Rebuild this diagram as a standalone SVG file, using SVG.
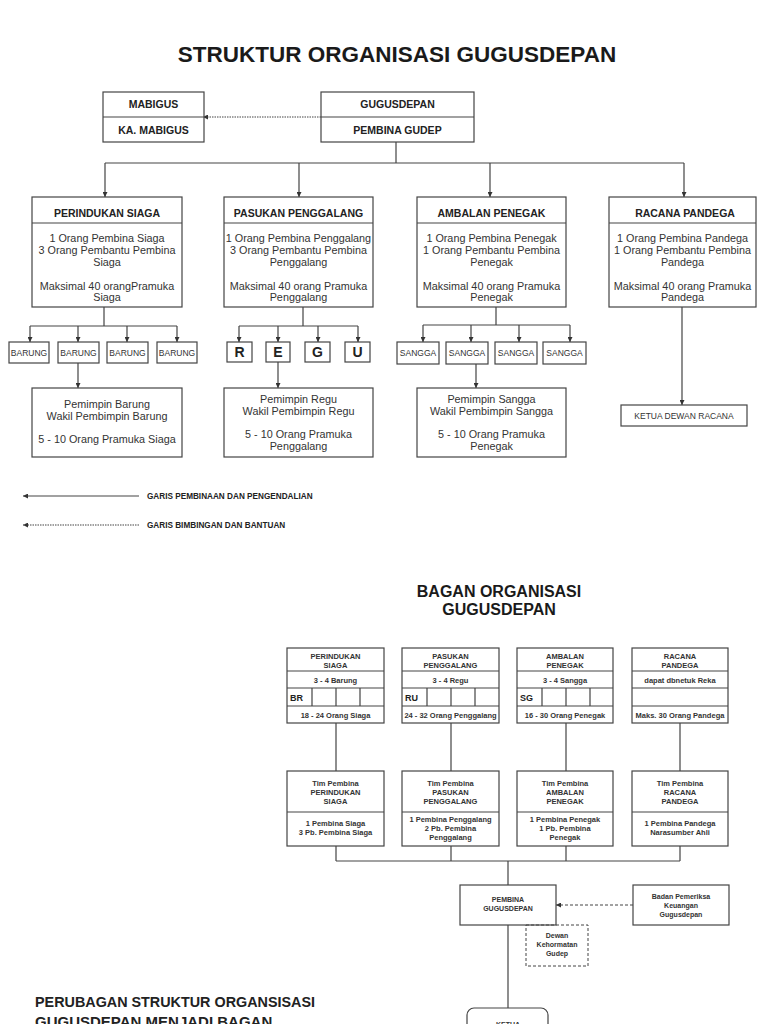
<svg xmlns="http://www.w3.org/2000/svg" width="768" height="1024" viewBox="0 0 768 1024">
<defs>
<style>
text{font-family:"Liberation Sans",Arial,sans-serif;fill:#222;}
.t{font-weight:bold;fill:#1a1a1a;text-anchor:middle;}
.hb{font-weight:bold;font-size:10.5px;text-anchor:middle;}
.b{font-size:10.8px;text-anchor:middle;fill:#333;}
.s{font-size:8.5px;text-anchor:middle;fill:#333;}
.L{font-weight:bold;font-size:14px;text-anchor:middle;}
.lg{font-weight:bold;font-size:8.2px;}
.sm{font-weight:bold;font-size:7.5px;text-anchor:middle;fill:#333;}
.xs{font-weight:bold;font-size:7px;text-anchor:middle;fill:#333;}
.box{fill:#fff;stroke:#444;stroke-width:1.2;}
.ln{fill:none;stroke:#444;stroke-width:1.2;}
.dot{fill:none;stroke:#444;stroke-width:1.1;stroke-dasharray:1.5 1;}
.dash{fill:none;stroke:#444;stroke-width:1;stroke-dasharray:3 2;}
</style>
<marker id="ah" viewBox="0 0 10 10" refX="10" refY="5" markerWidth="5" markerHeight="5" orient="auto-start-reverse" markerUnits="userSpaceOnUse">
<path d="M0,0 L10,5 L0,10 z" fill="#333"/>
</marker>
</defs>
<rect width="768" height="1024" fill="#fff"/>

<text class="t" x="397" y="62" font-size="22.5">STRUKTUR ORGANISASI GUGUSDEPAN</text>

<g id="connectors">
<path class="dot" d="M321,117 H203" marker-end="url(#ah)"/>
<path class="ln" d="M396,142 V163 M105,163 H684"/>
<path class="ln" d="M105,163 V197" marker-end="url(#ah)"/>
<path class="ln" d="M299,163 V197" marker-end="url(#ah)"/>
<path class="ln" d="M490,163 V197" marker-end="url(#ah)"/>
<path class="ln" d="M684,163 V197" marker-end="url(#ah)"/>
<!-- siaga -->
<path class="ln" d="M104,307 V326 M30,326 H177"/>
<path class="ln" d="M30,326 V342" marker-end="url(#ah)"/>
<path class="ln" d="M78,326 V342" marker-end="url(#ah)"/>
<path class="ln" d="M127,326 V342" marker-end="url(#ah)"/>
<path class="ln" d="M177,326 V342" marker-end="url(#ah)"/>
<path class="ln" d="M78,363 V388" marker-end="url(#ah)"/>
<!-- penggalang -->
<path class="ln" d="M303,307 V326 M239,326 H358"/>
<path class="ln" d="M239,326 V342" marker-end="url(#ah)"/>
<path class="ln" d="M278,326 V342" marker-end="url(#ah)"/>
<path class="ln" d="M318,326 V342" marker-end="url(#ah)"/>
<path class="ln" d="M358,326 V342" marker-end="url(#ah)"/>
<path class="ln" d="M278,362 V388" marker-end="url(#ah)"/>
<!-- penegak -->
<path class="ln" d="M496,307 V325 M423,325 H570"/>
<path class="ln" d="M423,325 V342" marker-end="url(#ah)"/>
<path class="ln" d="M471,325 V342" marker-end="url(#ah)"/>
<path class="ln" d="M519,325 V342" marker-end="url(#ah)"/>
<path class="ln" d="M570,325 V342" marker-end="url(#ah)"/>
<path class="ln" d="M476,364 V388" marker-end="url(#ah)"/>
<!-- pandega -->
<path class="ln" d="M682,307 V405" marker-end="url(#ah)"/>
<!-- legend -->
<path class="ln" d="M139,496 H23" marker-end="url(#ah)"/>
<path class="dot" d="M139,525 H23" marker-end="url(#ah)"/>
<!-- bottom chart -->
<path class="ln" d="M336,723 V771 M451,723 V771 M566,723 V771 M680,723 V771"/>
<path class="ln" d="M336,846 V861 M451,846 V861 M566,846 V861 M680,846 V861 M336,861 H680 M508,861 V885"/>
<path class="ln" d="M508,925 V1008"/>
<path class="dash" d="M633,905 H556" marker-end="url(#ah)"/>
</g>

<g id="mabigus">
<rect class="box" x="103" y="92" width="101" height="50"/>
<line class="ln" x1="103" y1="117" x2="204" y2="117"/>
<text class="hb" x="153.5" y="108" font-size="11">MABIGUS</text>
<text class="hb" x="153.5" y="134" font-size="11">KA. MABIGUS</text>
</g>
<g id="gugusdepan">
<rect class="box" x="321" y="92" width="153" height="50"/>
<line class="ln" x1="321" y1="117" x2="474" y2="117"/>
<text class="hb" x="397.5" y="108" font-size="11">GUGUSDEPAN</text>
<text class="hb" x="397.5" y="134" font-size="11">PEMBINA GUDEP</text>
</g>

<g id="perindukan">
<rect class="box" x="32" y="197" width="150" height="110"/>
<line class="ln" x1="32" y1="223" x2="182" y2="223"/>
<text class="hb" x="107" y="217">PERINDUKAN SIAGA</text>
<text class="b" x="107" y="242">1 Orang Pembina Siaga</text>
<text class="b" x="107" y="254">3 Orang Pembantu Pembina</text>
<text class="b" x="107" y="266">Siaga</text>
<text class="b" x="107" y="290">Maksimal 40 orangPramuka</text>
<text class="b" x="107" y="301">Siaga</text>
</g>
<g id="pasukan">
<rect class="box" x="224" y="197" width="149" height="110"/>
<line class="ln" x1="224" y1="223" x2="373" y2="223"/>
<text class="hb" x="298.5" y="217">PASUKAN PENGGALANG</text>
<text class="b" x="298.5" y="242">1 Orang Pembina Penggalang</text>
<text class="b" x="298.5" y="254">3 Orang Pembantu Pembina</text>
<text class="b" x="298.5" y="266">Penggalang</text>
<text class="b" x="298.5" y="290">Maksimal 40 orang Pramuka</text>
<text class="b" x="298.5" y="301">Penggalang</text>
</g>
<g id="ambalan">
<rect class="box" x="417" y="197" width="149" height="110"/>
<line class="ln" x1="417" y1="223" x2="566" y2="223"/>
<text class="hb" x="491.5" y="217">AMBALAN PENEGAK</text>
<text class="b" x="491.5" y="242">1 Orang Pembina Penegak</text>
<text class="b" x="491.5" y="254">1 Orang Pembantu Pembina</text>
<text class="b" x="491.5" y="266">Penegak</text>
<text class="b" x="491.5" y="290">Maksimal 40 orang Pramuka</text>
<text class="b" x="491.5" y="301">Penegak</text>
</g>
<g id="racana">
<rect class="box" x="609" y="197" width="147" height="110"/>
<line class="ln" x1="609" y1="223" x2="756" y2="223"/>
<text class="hb" x="685" y="217">RACANA PANDEGA</text>
<text class="b" x="682.5" y="242">1 Orang Pembina Pandega</text>
<text class="b" x="682.5" y="254">1 Orang Pembantu Pembina</text>
<text class="b" x="682.5" y="266">Pandega</text>
<text class="b" x="682.5" y="290">Maksimal 40 orang Pramuka</text>
<text class="b" x="682.5" y="301">Pandega</text>
</g>

<g id="barung1"><rect class="box" x="9" y="342" width="40" height="21"/><text class="s" x="29" y="355.5">BARUNG</text></g>
<g id="barung2"><rect class="box" x="58" y="342" width="41" height="21"/><text class="s" x="78.5" y="355.5">BARUNG</text></g>
<g id="barung3"><rect class="box" x="107" y="342" width="41" height="21"/><text class="s" x="127.5" y="355.5">BARUNG</text></g>
<g id="barung4"><rect class="box" x="157" y="342" width="40" height="21"/><text class="s" x="177" y="355.5">BARUNG</text></g>

<g id="regu-r"><rect class="box" x="227" y="342" width="25" height="20"/><text class="L" x="239.5" y="357">R</text></g>
<g id="regu-e"><rect class="box" x="266" y="342" width="24" height="20"/><text class="L" x="278" y="357">E</text></g>
<g id="regu-g"><rect class="box" x="305" y="342" width="25" height="20"/><text class="L" x="317.5" y="357">G</text></g>
<g id="regu-u"><rect class="box" x="345" y="342" width="25" height="20"/><text class="L" x="357.5" y="357">U</text></g>

<g id="sangga1"><rect class="box" x="397" y="342" width="42" height="22"/><text class="s" x="418" y="356">SANGGA</text></g>
<g id="sangga2"><rect class="box" x="446" y="342" width="42" height="22"/><text class="s" x="467" y="356">SANGGA</text></g>
<g id="sangga3"><rect class="box" x="495" y="342" width="42" height="22"/><text class="s" x="516" y="356">SANGGA</text></g>
<g id="sangga4"><rect class="box" x="543" y="342" width="43" height="22"/><text class="s" x="564.5" y="356">SANGGA</text></g>

<g id="pemimpin-barung">
<rect class="box" x="32" y="388" width="150" height="69"/>
<text class="b" x="107" y="408">Pemimpin Barung</text>
<text class="b" x="107" y="420">Wakil Pembimpin Barung</text>
<text class="b" x="107" y="443">5 - 10 Orang Pramuka Siaga</text>
</g>
<g id="pemimpin-regu">
<rect class="box" x="224" y="388" width="149" height="69"/>
<text class="b" x="298.5" y="403">Pemimpin Regu</text>
<text class="b" x="298.5" y="415">Wakil Pembimpin Regu</text>
<text class="b" x="298.5" y="438">5 - 10 Orang Pramuka</text>
<text class="b" x="298.5" y="450">Penggalang</text>
</g>
<g id="pemimpin-sangga">
<rect class="box" x="417" y="388" width="149" height="69"/>
<text class="b" x="491.5" y="403">Pemimpin Sangga</text>
<text class="b" x="491.5" y="415">Wakil Pembimpin Sangga</text>
<text class="b" x="491.5" y="438">5 - 10 Orang Pramuka</text>
<text class="b" x="491.5" y="450">Penegak</text>
</g>
<g id="ketua-dewan-racana">
<rect class="box" x="621" y="405" width="126" height="21"/>
<text class="s" x="684" y="419" font-size="8.7">KETUA DEWAN RACANA</text>
</g>

<g id="legend">
<text class="lg" x="147" y="499">GARIS PEMBINAAN DAN PENGENDALIAN</text>
<text class="lg" x="147" y="528">GARIS BIMBINGAN DAN BANTUAN</text>
</g>

<text class="t" x="499" y="597" font-size="16">BAGAN ORGANISASI</text>
<text class="t" x="499" y="615" font-size="16">GUGUSDEPAN</text>

<g id="b-siaga">
<rect class="box" x="287" y="648" width="97" height="75"/>
<path class="ln" d="M287,671 H384 M287,688 H384 M287,706 H384 M312,688 V706 M336,688 V706 M360,688 V706"/>
<text class="sm" x="335.5" y="659">PERINDUKAN</text>
<text class="sm" x="335.5" y="668">SIAGA</text>
<text class="sm" x="335.5" y="682.5">3 - 4 Barung</text>
<text x="290" y="700.5" font-size="9" font-weight="bold">BR</text>
<text class="sm" x="335.5" y="717.5">18 - 24 Orang Siaga</text>
</g>
<g id="b-penggalang">
<rect class="box" x="402" y="648" width="97" height="75"/>
<path class="ln" d="M402,671 H499 M402,688 H499 M402,706 H499 M427,688 V706 M451,688 V706 M475,688 V706"/>
<text class="sm" x="450.5" y="659">PASUKAN</text>
<text class="sm" x="450.5" y="668">PENGGALANG</text>
<text class="sm" x="450.5" y="682.5">3 - 4 Regu</text>
<text x="405" y="700.5" font-size="9" font-weight="bold">RU</text>
<text class="sm" x="450.5" y="717.5" font-size="7.2">24 - 32 Orang Penggalang</text>
</g>
<g id="b-penegak">
<rect class="box" x="517" y="648" width="96" height="75"/>
<path class="ln" d="M517,671 H613 M517,688 H613 M517,706 H613 M542,688 V706 M566,688 V706 M590,688 V706"/>
<text class="sm" x="565" y="659">AMBALAN</text>
<text class="sm" x="565" y="668">PENEGAK</text>
<text class="sm" x="565" y="682.5">3 - 4 Sangga</text>
<text x="520" y="700.5" font-size="9" font-weight="bold">SG</text>
<text class="sm" x="565" y="717.5">16 - 30 Orang Penegak</text>
</g>
<g id="b-pandega">
<rect class="box" x="632" y="648" width="96" height="75"/>
<path class="ln" d="M632,671 H728 M632,688 H728 M632,706 H728"/>
<text class="sm" x="680" y="659">RACANA</text>
<text class="sm" x="680" y="668">PANDEGA</text>
<text class="sm" x="680" y="682.5">dapat dbnetuk Reka</text>
<text class="sm" x="680" y="717.5" font-size="6.8">Maks. 30 Orang Pandega</text>
</g>

<g id="tim-siaga">
<rect class="box" x="287" y="771" width="97" height="75"/>
<line class="ln" x1="287" y1="812" x2="384" y2="812"/>
<text class="sm" x="335.5" y="785.7">Tim Pembina</text>
<text class="sm" x="335.5" y="794.7">PERINDUKAN</text>
<text class="sm" x="335.5" y="803.7">SIAGA</text>
<text class="sm" x="335.5" y="825.7">1 Pembina Siaga</text>
<text class="sm" x="335.5" y="834.7">3 Pb. Pembina Siaga</text>
</g>
<g id="tim-penggalang">
<rect class="box" x="402" y="771" width="97" height="75"/>
<line class="ln" x1="402" y1="812" x2="499" y2="812"/>
<text class="sm" x="450.5" y="785.7">Tim Pembina</text>
<text class="sm" x="450.5" y="794.7">PASUKAN</text>
<text class="sm" x="450.5" y="803.7">PENGGALANG</text>
<text class="sm" x="450.5" y="821.7">1 Pembina Penggalang</text>
<text class="sm" x="450.5" y="830.7">2 Pb. Pembina</text>
<text class="sm" x="450.5" y="839.7">Penggalang</text>
</g>
<g id="tim-penegak">
<rect class="box" x="517" y="771" width="96" height="75"/>
<line class="ln" x1="517" y1="812" x2="613" y2="812"/>
<text class="sm" x="565" y="785.7">Tim Pembina</text>
<text class="sm" x="565" y="794.7">AMBALAN</text>
<text class="sm" x="565" y="803.7">PENEGAK</text>
<text class="sm" x="565" y="821.7">1 Pembina Penegak</text>
<text class="sm" x="565" y="830.7">1 Pb. Pembina</text>
<text class="sm" x="565" y="839.7">Penegak</text>
</g>
<g id="tim-pandega">
<rect class="box" x="632" y="771" width="96" height="75"/>
<line class="ln" x1="632" y1="812" x2="728" y2="812"/>
<text class="sm" x="680" y="785.7">Tim Pembina</text>
<text class="sm" x="680" y="794.7">RACANA</text>
<text class="sm" x="680" y="803.7">PANDEGA</text>
<text class="sm" x="680" y="825.7">1 Pembina Pandega</text>
<text class="sm" x="680" y="834.7">Narasumber Ahli</text>
</g>

<g id="pembina-gugusdepan">
<rect class="box" x="460" y="885" width="96" height="40"/>
<text class="xs" x="508" y="901.5">PEMBINA</text>
<text class="xs" x="508" y="910.5">GUGUSDEPAN</text>
</g>
<g id="badan-pemeriksa">
<rect class="box" x="633" y="885" width="96" height="40"/>
<text class="xs" x="681" y="898.5">Badan Pemeriksa</text>
<text class="xs" x="681" y="907.5">Keuangan</text>
<text class="xs" x="681" y="916.5">Gugusdepan</text>
</g>
<g id="dewan-kehormatan">
<rect x="526" y="925" width="62" height="41" fill="#fff" class="dash"/>
<text class="xs" x="557" y="937.5">Dewan</text>
<text class="xs" x="557" y="946.5">Kehormatan</text>
<text class="xs" x="557" y="955.5">Gudep</text>
</g>
<g id="ketua">
<rect class="box" x="467" y="1008" width="81" height="40" rx="7"/>
<text class="xs" x="508" y="1027">KETUA</text>
</g>

<text x="35" y="1007" font-size="15" font-weight="bold" fill="#111" textLength="280" lengthAdjust="spacingAndGlyphs">PERUBAGAN STRUKTUR ORGANSISASI</text>
<text x="35" y="1027" font-size="15" font-weight="bold" fill="#111">GUGUSDEPAN MENJADI BAGAN</text>
</svg>
